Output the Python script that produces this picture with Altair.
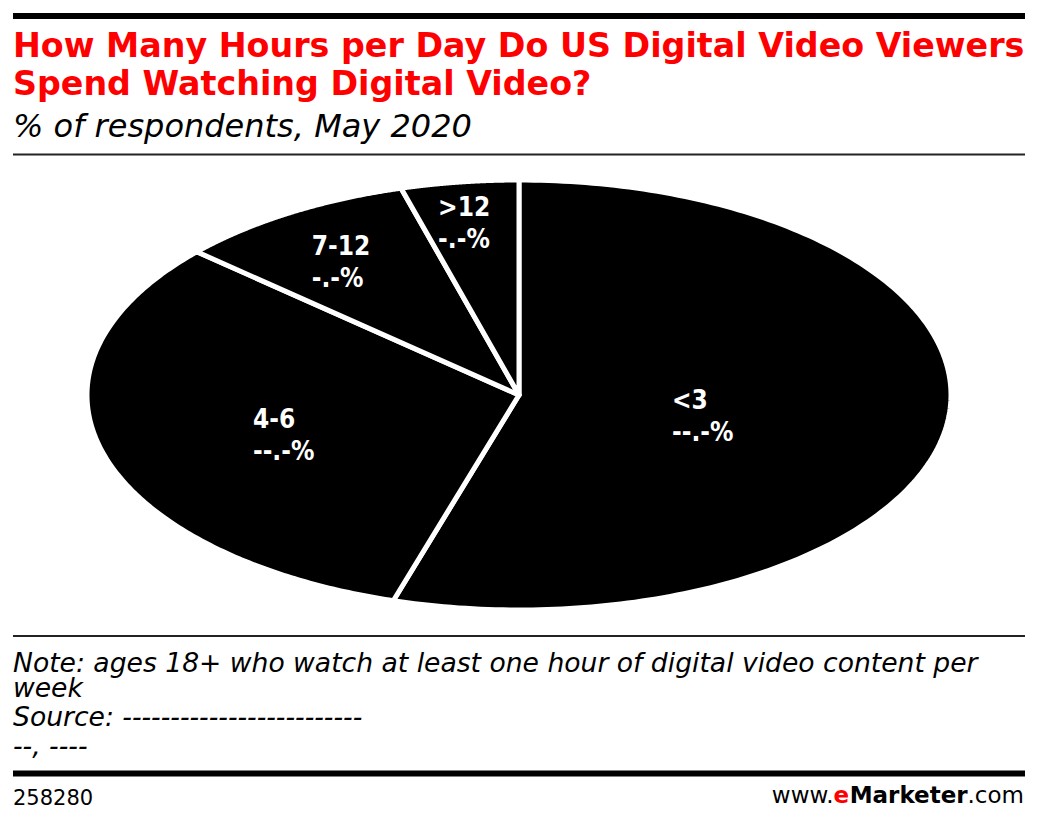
import altair as alt
import pandas as pd

# ---- data ----
categories = ["<3", "4-6", "7-12", ">12"]
shares = [54.7, 31.9, 9.0, 4.4]
value_labels = ["--.-%", "--.-%", "-.-%", "-.-%"]
slice_order = [0, 1, 2, 3]

title_lines = ["How Many Hours per Day Do US Digital Video Viewers",
               "Spend Watching Digital Video?"]
subtitle = "% of respondents, May 2020"
note_lines = ["Note: ages 18+ who watch at least one hour of digital video content per",
              "week",
              "Source: -------------------------",
              "--, ----"]
chart_id = "258280"
site_parts = ["www.", "e", "Marketer", ".com"]

pie_df = pd.DataFrame({"cat": categories, "share": shares,
                       "vlabel": value_labels, "idx": slice_order})

W, H = 1022, 807
N = 200

xs = alt.Scale(domain=[-1, 1], range=[79, 943])
ys = alt.Scale(domain=[-1, 1], range=[172, 602])

base = (alt.Chart(pie_df)
        .transform_joinaggregate(total="sum(share)")
        .transform_window(cum="sum(share)", sort=[alt.SortField("idx")], frame=[None, 0])
        .transform_calculate(a0="2*PI*(datum.cum - datum.share)/datum.total",
                             a1="2*PI*datum.cum/datum.total"))

wedges = (base
          .transform_calculate(t=f"sequence(-1, {N + 1})")
          .transform_flatten(["t"])
          .transform_calculate(ang=f"datum.a0 + (datum.a1 - datum.a0) * datum.t / {N}")
          .transform_calculate(px="datum.t < 0 ? 0 : sin(datum.ang)",
                               py="datum.t < 0 ? 0 : -cos(datum.ang)")
          .mark_line(interpolate="linear-closed", fill="black", stroke="white",
                     strokeWidth=5, strokeJoin="round")
          .encode(x=alt.X("px:Q", scale=xs, axis=None),
                  y=alt.Y("py:Q", scale=ys, axis=None),
                  order="t:Q", detail="cat:N"))

lab = (base
       .transform_calculate(mid="(datum.a0 + datum.a1)/2",
                            r="1 - 0.77*sqrt(datum.share/datum.total)")
       .transform_calculate(lx="datum.r*sin(datum.mid)", ly="-datum.r*cos(datum.mid)"))

lab_style = dict(align="left", baseline="alphabetic", font="DejaVu Sans Condensed",
                 fontWeight="bold", fontSize=26, color="white", dx=-31)
lab1 = lab.mark_text(dy=0, **lab_style).encode(
    x=alt.X("lx:Q", scale=xs, axis=None), y=alt.Y("ly:Q", scale=ys, axis=None), text="cat:N")
lab2 = lab.mark_text(dy=32, **lab_style).encode(
    x=alt.X("lx:Q", scale=xs, axis=None), y=alt.Y("ly:Q", scale=ys, axis=None), text="vlabel:N")


def txt(s, x, y, **kw):
    return alt.Chart(pd.DataFrame({"s": [s]})).mark_text(
        align=kw.pop("align", "left"), baseline="alphabetic", **kw).encode(
        text="s:N", x=alt.value(x), y=alt.value(y))


def rule(y, w, color="black"):
    return alt.Chart(pd.DataFrame({"a": [0]})).mark_rule(strokeWidth=w, color=color).encode(
        x=alt.value(5), x2=alt.value(1017), y=alt.value(y))


ital = dict(font="DejaVu Sans", fontStyle="italic", color="black")
url = dict(font="DejaVu Sans", fontSize=23, align="right")

layers = [
    rule(8, 6),
    txt(title_lines[0], 5, 49, font="DejaVu Sans", fontWeight="bold", fontSize=33.3, color="#ff0000"),
    txt(title_lines[1], 5, 87, font="DejaVu Sans", fontWeight="bold", fontSize=33.3, color="#ff0000"),
    txt(subtitle, 5, 129, fontSize=32, **ital),
    rule(146.5, 1.8, "#222222"),
    wedges, lab1, lab2,
    rule(628, 1.8, "#222222"),
    txt(note_lines[0], 5, 664, fontSize=26.6, **ital),
    txt(note_lines[1], 5, 689, fontSize=26.6, **ital),
    txt(note_lines[2], 5, 718, fontSize=26.6, **ital),
    txt(note_lines[3], 5, 747, fontSize=26.6, **ital),
    rule(765.5, 6),
    txt(chart_id, 5, 797, font="DejaVu Sans", fontSize=21, color="black"),
    txt(site_parts[0], 825.5, 795, color="black", **url),
    txt(site_parts[1], 841.1, 795, fontWeight="bold", color="#ff0000", **url),
    txt(site_parts[2], 959.6, 795, fontWeight="bold", color="black", **url),
    txt(site_parts[3], 1016, 795, color="black", **url),
]

chart = (alt.layer(*layers)
         .properties(width=W, height=H, padding=0)
         .configure_view(stroke=None))

chart.save("out.html", embed_options={"renderer": "svg", "actions": False})
